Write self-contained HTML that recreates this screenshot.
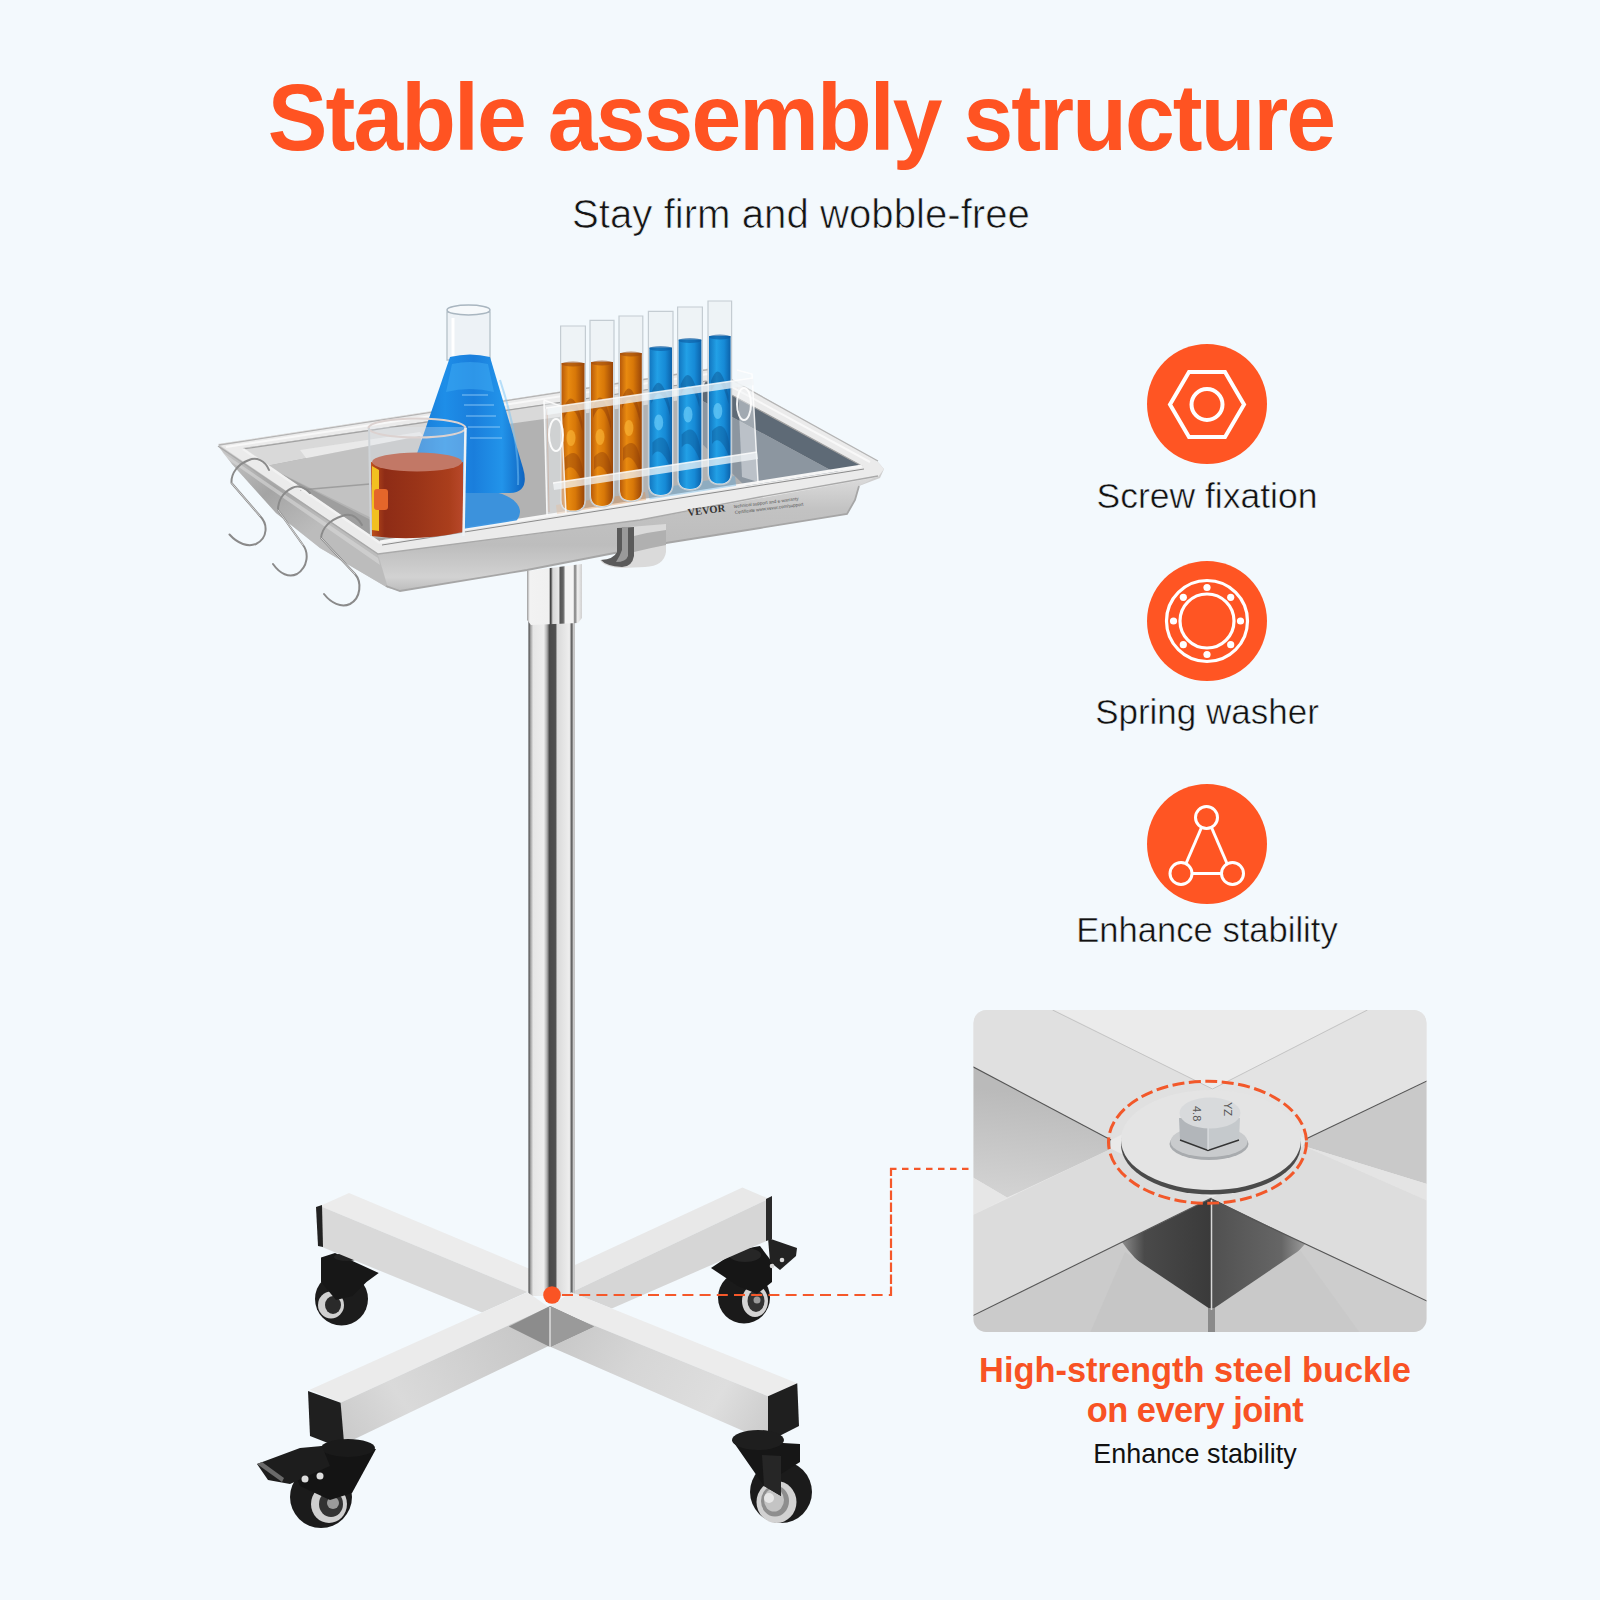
<!DOCTYPE html>
<html><head><meta charset="utf-8">
<style>
html,body{margin:0;padding:0;}
body{width:1600px;height:1600px;background:#f3f9fd;position:relative;overflow:hidden;font-family:"Liberation Sans",sans-serif;}
.t{position:absolute;white-space:nowrap;line-height:1;text-align:center;}
#art{position:absolute;left:0;top:0;}
#title{left:1px;width:1600px;top:70px;font-size:95px;font-weight:bold;color:#ff5322;letter-spacing:-2px;transform:scaleX(0.9415);}
#sub{left:501px;width:600px;top:195px;font-size:40.2px;color:#141414;-webkit-text-stroke:0.7px #f3f9fd;}
.lbl{left:1007px;width:400px;color:#111;-webkit-text-stroke:0.5px #f3f9fd;}
.pt{left:895px;width:600px;color:#f85224;font-weight:bold;font-size:34.4px;}
</style></head>
<body>
<svg id="art" width="1600" height="1600" viewBox="0 0 1600 1600">
<defs>
</defs>

<!-- ===== BASE ===== -->
<defs>
  <linearGradient id="gPole" x1="0" x2="1" y1="0" y2="0">
    <stop offset="0" stop-color="#3a3a3a"/>
    <stop offset="0.04" stop-color="#9a9a9a"/>
    <stop offset="0.1" stop-color="#e6e6e6"/>
    <stop offset="0.33" stop-color="#ededed"/>
    <stop offset="0.4" stop-color="#aaaaaa"/>
    <stop offset="0.45" stop-color="#4a4a4a"/>
    <stop offset="0.58" stop-color="#505050"/>
    <stop offset="0.62" stop-color="#dadada"/>
    <stop offset="0.88" stop-color="#eeeeee"/>
    <stop offset="0.93" stop-color="#555"/>
    <stop offset="0.97" stop-color="#cfcfcf"/>
    <stop offset="1" stop-color="#bdbdbd"/>
  </linearGradient>
  <linearGradient id="gFLAf" x1="342" y1="1445" x2="548" y2="1306" gradientUnits="userSpaceOnUse">
    <stop offset="0" stop-color="#c9c9c9"/>
    <stop offset="0.3" stop-color="#dadada"/>
    <stop offset="0.7" stop-color="#cdcdcd"/>
    <stop offset="1" stop-color="#c4c4c4"/>
  </linearGradient>
  <linearGradient id="gFRAf" x1="548" y1="1310" x2="768" y2="1440" gradientUnits="userSpaceOnUse">
    <stop offset="0" stop-color="#c4c4c4"/>
    <stop offset="0.4" stop-color="#d6d6d6"/>
    <stop offset="0.75" stop-color="#dedede"/>
    <stop offset="1" stop-color="#cacaca"/>
  </linearGradient>
  <linearGradient id="gTop" x1="0" y1="0" x2="1" y2="0">
    <stop offset="0" stop-color="#e9e9e9"/>
    <stop offset="1" stop-color="#f2f2f2"/>
  </linearGradient>
</defs>

<!-- back-right caster -->
<g>
  <circle cx="744" cy="1297.5" r="26" fill="#1a1a1a"/>
  <ellipse cx="755" cy="1301" rx="13" ry="16" fill="#d4d4d4"/>
  <ellipse cx="756" cy="1301" rx="8.5" ry="11" fill="#333"/>
  <circle cx="757" cy="1300" r="3.5" fill="#9a9a9a"/>
  <polygon points="711,1268 738,1250 760,1246 772,1262 772,1282 757,1294 738,1286" fill="#161616"/>
  <ellipse cx="745" cy="1255" rx="16" ry="7" fill="#262626"/>
  <polygon points="768,1238 797,1248 796,1256 780,1270 770,1262" fill="#222"/>
  <circle cx="772" cy="1266" r="2.3" fill="#d8d8d8"/>
  <circle cx="782" cy="1260" r="2.3" fill="#d8d8d8"/>
</g>
<!-- back-left caster -->
<g>
  <circle cx="341.5" cy="1299" r="26.5" fill="#1c1c1c"/>
  <ellipse cx="331" cy="1305" rx="13" ry="13.5" fill="#d0d0d0"/>
  <ellipse cx="333" cy="1305" rx="8" ry="9" fill="#2a2a2a"/>
  <polygon points="321,1257.5 335,1253 378.75,1273 366.5,1282 352.5,1296 336,1300 321,1282" fill="#171717"/>
  <ellipse cx="347" cy="1257" rx="13" ry="4" fill="#222"/>
</g>
<!-- back-left arm -->
<polygon points="320,1206 349,1193 549,1277 527.5,1292" fill="#ececec"/>
<polygon points="320,1206 527.5,1292 482,1312.6 322,1247" fill="#d9d9d9"/>
<polygon points="316,1207 322,1205 323,1247 318,1246" fill="#222"/>
<!-- back-right arm -->
<polygon points="549,1277 742.4,1187.5 768.7,1198.7 571.4,1292.25" fill="#e8e8e8"/>
<polygon points="571.4,1292.25 768.7,1198.7 768.7,1240 611.8,1308.5" fill="#d6d6d6"/>
<polygon points="766,1199 772,1196 772,1239 766,1241" fill="#2a2a2a"/>

<!-- pole -->
<rect x="528.5" y="620" width="46.5" height="676" fill="url(#gPole)"/>

<!-- front-left arm -->
<polygon points="309.75,1389.75 527.5,1292.25 548.6,1306.9 340.6,1402.75" fill="#ebebeb"/>
<polygon points="340.6,1402.75 548.6,1306.9 548.6,1345.9 342.25,1445" fill="url(#gFLAf)"/>
<polygon points="308,1391 340.6,1402.75 344.6,1449.5 310,1436" fill="#1f1f1f"/>
<!-- front-right arm -->
<polygon points="571.4,1292.25 797.25,1383.25 768,1396.25 548.6,1306.9" fill="#ececec"/>
<polygon points="548.6,1306.9 768,1396.25 768,1441.75 548.6,1345.9" fill="url(#gFRAf)"/>
<polygon points="768,1396.25 797.25,1383.25 799,1426 768,1441.75" fill="#1f1f1f"/>
<polygon points="550,1306 508.8,1326.4 550,1347 594,1326.4" fill="#8c8c8c"/>
<polygon points="550,1306 594,1326.4 550,1347" fill="#9a9a9a"/>
<line x1="550" y1="1307" x2="550" y2="1347" stroke="#dcdcdc" stroke-width="1.5"/>

<!-- front-left caster -->
<g>
  <circle cx="321" cy="1497" r="31" fill="#1b1b1b"/>
  <ellipse cx="329" cy="1504" rx="18" ry="19" fill="#cfcfcf"/>
  <ellipse cx="331" cy="1504" rx="12" ry="13" fill="#333"/>
  <circle cx="333" cy="1503" r="6" fill="#9a9a9a"/>
  <polygon points="288,1458 322,1446 376,1449 352,1493 330,1500 300,1486" fill="#141414"/>
  <ellipse cx="348" cy="1448" rx="27" ry="9" fill="#1a1a1a"/>
  <polygon points="257,1464 300,1448 322,1446 330,1466 290,1484 268,1480" fill="#1d1d1d"/>
  <polygon points="257,1464 262,1462 284,1478 282,1482" fill="#6a6a6a"/>
  <circle cx="305" cy="1479" r="3.5" fill="#ddd"/>
  <circle cx="320" cy="1476" r="3.5" fill="#ddd"/>
</g>
<!-- front-right caster -->
<g>
  <circle cx="781" cy="1492" r="31" fill="#1b1b1b"/>
  <ellipse cx="776.5" cy="1502" rx="20" ry="21" fill="#d2d2d2"/>
  <ellipse cx="775" cy="1501" rx="14" ry="15.5" fill="#8e8e8e"/>
  <ellipse cx="774" cy="1500" rx="10" ry="11.5" fill="#c4c4c4"/>
  <circle cx="769" cy="1498" r="5" fill="#e6e6e6"/>
  <polygon points="732,1440 800,1444 800,1462 781,1474 781,1496 764,1486" fill="#161616"/>
  <polygon points="762,1455 781,1456 781,1496 764,1486" fill="#262626"/>
  <ellipse cx="758" cy="1440" rx="26" ry="10" fill="#1e1e1e"/>
</g>

<!-- orange pointer -->
<line x1="562" y1="1295" x2="891" y2="1295" stroke="#f5582a" stroke-width="2.2" stroke-dasharray="11 6.2"/>
<circle cx="552" cy="1295" r="8.8" fill="#fa5424"/>
<line x1="891" y1="1296" x2="891" y2="1168" stroke="#f5582a" stroke-width="2.2" stroke-dasharray="9.5 2.5"/>
<line x1="890" y1="1168.8" x2="974" y2="1168.8" stroke="#f5582a" stroke-width="2.2" stroke-dasharray="6.5 5.5"/>

<!-- ===== TRAY ===== -->
<defs>
  <linearGradient id="gCollar" x1="0" x2="1" y1="0" y2="0">
    <stop offset="0" stop-color="#9a9a9a"/>
    <stop offset="0.05" stop-color="#f2f2f2"/>
    <stop offset="0.4" stop-color="#f0f0f0"/>
    <stop offset="0.43" stop-color="#333"/>
    <stop offset="0.47" stop-color="#d8d8d8"/>
    <stop offset="0.58" stop-color="#e8e8e8"/>
    <stop offset="0.6" stop-color="#555"/>
    <stop offset="0.66" stop-color="#666"/>
    <stop offset="0.7" stop-color="#f4f4f4"/>
    <stop offset="0.84" stop-color="#f4f4f4"/>
    <stop offset="0.87" stop-color="#777"/>
    <stop offset="0.92" stop-color="#f0f0f0"/>
    <stop offset="1" stop-color="#d0d0d0"/>
  </linearGradient>
  <linearGradient id="gBasin" x1="240" y1="440" x2="860" y2="470" gradientUnits="userSpaceOnUse">
    <stop offset="0" stop-color="#cfcfcf"/>
    <stop offset="0.2" stop-color="#e2e2e2"/>
    <stop offset="0.55" stop-color="#d8d8d8"/>
    <stop offset="0.8" stop-color="#c4c4c4"/>
    <stop offset="1" stop-color="#a9a9a9"/>
  </linearGradient>
  <linearGradient id="gLeft" x1="230" y1="450" x2="300" y2="540" gradientUnits="userSpaceOnUse">
    <stop offset="0" stop-color="#c4c4c4"/>
    <stop offset="0.5" stop-color="#a4a4a4"/>
    <stop offset="1" stop-color="#bcbcbc"/>
  </linearGradient>
  <linearGradient id="gFront" x1="0" y1="0" x2="0" y2="1">
    <stop offset="0" stop-color="#dcdcdc"/>
    <stop offset="0.3" stop-color="#c2c2c2"/>
    <stop offset="0.6" stop-color="#bdbdbd"/>
    <stop offset="0.88" stop-color="#d2d2d2"/>
    <stop offset="1" stop-color="#bcbcbc"/>
  </linearGradient>
</defs>

<!-- collar under tray -->
<polygon points="527,571 582,564 582,618 578,623 531,625 527,620" fill="url(#gCollar)"/>

<!-- tray outer silhouette (left face + front face) -->
<polygon points="218,444 712,368 877,461 884,469 880,478 859,486 855,500 847,514 760,528 666,543 527,570 400,591 388,588 320,548 276,513 232,464" fill="#cfcfcf"/>
<!-- front face -->
<polygon points="378,554 640,520 760,497 878,476 859,486 855,500 847,514 760,528 666,543 527,570 400,591 386,586" fill="url(#gFront)"/>
<!-- left face -->
<polygon points="218,446 378,554 388,588 320,548 276,513 232,464" fill="url(#gLeft)"/>
<polygon points="222,452 378,558 380,565 230,461" fill="#d8d8d8" opacity="0.6"/>
<!-- rim top surface -->
<polygon points="218,444 712,368 877,461 884,469 878,477 640,520 378,554" fill="#ebebeb"/>
<!-- basin -->
<polygon points="243,448 706,381 862,466 380,542" fill="#b2b2b2"/>
<polygon points="243,448 706,381 696,398 420,436 266,466" fill="#d9d9d9"/>
<polygon points="300,450 420,432 450,470 330,490" fill="#ececec" opacity="0.8"/>
<polygon points="243,448 266,466 394,532 380,542" fill="#9e9e9e"/>
<polygon points="266,466 420,436 440,488 392,528" fill="#c2c2c2"/>
<polyline points="300,490 440,478" fill="none" stroke="#8e8e8e" stroke-width="1.5" opacity="0.7"/>
<polygon points="706,381 862,466 834,472 697,398" fill="#5e6a76"/>
<polygon points="697,398 834,472 745,486 688,430" fill="#8c96a0"/>
<!-- rim lines -->
<polyline points="219,445 712,369 878,461" fill="none" stroke="#b4b4b4" stroke-width="1.3"/>
<polyline points="226,447 708,374 870,462" fill="none" stroke="#f8f8f8" stroke-width="2"/>
<polyline points="243,449 706,381 862,466" fill="none" stroke="#a2a2a2" stroke-width="1.2"/>
<polyline points="218,446 378,554 640,520 760,497 878,476" fill="none" stroke="#a9a9a9" stroke-width="1.4"/>
<polyline points="380,542 862,466" fill="none" stroke="#f6f6f6" stroke-width="3"/>
<polyline points="382,545 864,469" fill="none" stroke="#8a8a8a" stroke-width="1"/>
<polyline points="243,449 380,543" fill="none" stroke="#f2f2f2" stroke-width="2.5"/>
<polyline points="386,586 400,591 527,570 666,543 760,528 847,514 855,500 859,486" fill="none" stroke="#a6a6a6" stroke-width="1.8"/>
<!-- clamp at right under tray -->
<path d="M617,528 L666,524 L666,552 Q664,566 645,567 L622,568 Q604,567 600,560 Q614,560 617,552 Z" fill="#dadada"/>
<path d="M634,536 Q650,532 666,530 L666,545 Q650,548 634,552 Z" fill="#b0b0b0"/>
<path d="M617,528 L634,527 L634,556 Q632,567 622,567 Q606,566 601,560 Q614,559 617,552 Z" fill="#5a5a5a"/>
<path d="M622,527 L628,527 L628,556 Q626,562 616,562 Q620,556 622,550 Z" fill="#9a9a9a"/>
<!-- VEVOR label -->
<text x="688" y="516" font-family="Liberation Serif" font-weight="bold" font-size="10.5" fill="#333" transform="rotate(-7 688 516)">VEVOR</text>
<text x="734" y="508" font-family="Liberation Sans" font-size="4.5" fill="#555" transform="rotate(-7 734 508)">technical support and e-warranty</text>
<text x="735" y="514" font-family="Liberation Sans" font-size="4.5" fill="#555" transform="rotate(-7 735 514)">Certificate www.vevor.com/support</text>

<!-- ===== OBJECTS ===== -->
<defs>
  <linearGradient id="gBlue" x1="0" x2="1" y1="0" y2="0">
    <stop offset="0" stop-color="#1676d2"/>
    <stop offset="0.3" stop-color="#1e8ee8"/>
    <stop offset="0.55" stop-color="#1a7edc"/>
    <stop offset="0.8" stop-color="#2294ea"/>
    <stop offset="1" stop-color="#0f64c0"/>
  </linearGradient>
  <linearGradient id="gTubeO" x1="0" x2="1" y1="0" y2="0">
    <stop offset="0" stop-color="#b85a0a"/>
    <stop offset="0.3" stop-color="#e88a10"/>
    <stop offset="0.6" stop-color="#d87808"/>
    <stop offset="1" stop-color="#9a4608"/>
  </linearGradient>
  <linearGradient id="gTubeB" x1="0" x2="1" y1="0" y2="0">
    <stop offset="0" stop-color="#1276c0"/>
    <stop offset="0.35" stop-color="#22a0e6"/>
    <stop offset="0.7" stop-color="#168ad6"/>
    <stop offset="1" stop-color="#0c62aa"/>
  </linearGradient>
  <linearGradient id="gRed" x1="0" x2="1" y1="0" y2="0">
    <stop offset="0" stop-color="#c0501c"/>
    <stop offset="0.15" stop-color="#8e2c16"/>
    <stop offset="0.5" stop-color="#9a3418"/>
    <stop offset="0.85" stop-color="#aa3e1c"/>
    <stop offset="1" stop-color="#b8482a"/>
  </linearGradient>
</defs>

<!-- reflections in tray -->
<clipPath id="cBasin"><polygon points="243,448 706,381 862,466 380,542"/></clipPath>
<g clip-path="url(#cBasin)">
<ellipse cx="478" cy="512" rx="42" ry="22" fill="#2f8ee0" opacity="0.9"/>
<polygon points="556,505 645,492 650,530 560,540" fill="#e08a40" opacity="0.35"/>
<polygon points="648,490 735,476 740,520 655,530" fill="#3aa0e0" opacity="0.3"/>
</g>

<!-- flask -->
<g>
  <path d="M447,312 L447,360 L490,360 L490,312 Z" fill="#edf2f6" stroke="#b4c0c8" stroke-width="1.3"/>
  <line x1="453" y1="318" x2="453" y2="356" stroke="#ffffff" stroke-width="3"/>
  <ellipse cx="468.5" cy="310" rx="21.5" ry="5" fill="#f6f9fb" stroke="#a9b6c0" stroke-width="1.5"/>
  <path d="M450,357 Q470,352 490,357 L523,468 Q530,492 510,493 L428,493 Q406,492 412,468 Z" fill="url(#gBlue)"/>
  <path d="M452,364 Q470,360 488,364 L494,392 Q470,386 446,392 Z" fill="#3eaaf2" opacity="0.55"/>
  <g stroke="#9fd4fa" stroke-width="1" opacity="0.8">
    <line x1="462" y1="395" x2="488" y2="395"/>
    <line x1="464" y1="405" x2="494" y2="405"/>
    <line x1="466" y1="416" x2="496" y2="416"/>
    <line x1="468" y1="427" x2="500" y2="427"/>
    <line x1="470" y1="438" x2="502" y2="438"/>
  </g>
  <path d="M500,380 Q520,440 518,485" fill="none" stroke="#78c4f6" stroke-width="2" opacity="0.5"/>
</g>
<!-- beaker -->
<g>
  <rect x="370" y="427" width="95" height="111" fill="#e6ecf2" opacity="0.3"/>
  <path d="M371,462 Q417,476 463,462 L463,532 Q417,542 372,536 Z" fill="url(#gRed)"/>
  <ellipse cx="417" cy="462" rx="45" ry="9.5" fill="#c27866"/>
  <path d="M372,466 L379,470 L379,531 L372,530 Z" fill="#f2c020"/>
  <rect x="374" y="489" width="14" height="21" rx="3" fill="#e4662a"/>
  <ellipse cx="417" cy="428" rx="48.5" ry="9.5" fill="none" stroke="#dcd2d0" stroke-width="2"/>
  <path d="M369,428 L371,536" stroke="#cfd4d8" stroke-width="2"/>
  <path d="M465.5,428 L463.5,536" stroke="#eef2f5" stroke-width="2.5"/>
</g>
<!-- test tube rack back bars -->
<g fill="#eef2f5" opacity="0.55">
  <polygon points="545,409 753,378 753,384 545,415"/>
</g>

<!-- tubes -->
<g stroke="#c4ccd2" stroke-width="1.2">
  <path d="M560.6,326 L585.4,326 L585.4,500 Q585.4,511.6 573,511.6 Q560.6,511.6 560.6,500 Z" fill="#eef3f6"/>
  <path d="M590,320.4 L614,320.4 L614,495 Q614,507 602,507 Q590,507 590,495 Z" fill="#eef3f6"/>
  <path d="M619,316 L642.8,316 L642.8,490 Q642.8,501.5 631,501.5 Q619,501.5 619,490 Z" fill="#eef3f6"/>
  <path d="M648.4,311.4 L673,311.4 L673,484 Q673,496 660.7,496 Q648.4,496 648.4,484 Z" fill="#eef3f6"/>
  <path d="M677.6,307 L702.4,307 L702.4,478 Q702.4,490 690,490 Q677.6,490 677.6,478 Z" fill="#eef3f6"/>
  <path d="M708,301 L731.6,301 L731.6,473 Q731.6,484.6 719.8,484.6 Q708,484.6 708,473 Z" fill="#eef3f6"/>
</g>
<g>
  <path d="M561.5,363 L584.5,363 L584.5,500 Q584.5,510.6 573,510.6 Q561.5,510.6 561.5,500 Z" fill="url(#gTubeO)"/>
  <path d="M591,362 L613,362 L613,495 Q613,506 602,506 Q591,506 591,495 Z" fill="url(#gTubeO)"/>
  <path d="M620,353 L641.8,353 L641.8,490 Q641.8,500.5 631,500.5 Q620,500.5 620,490 Z" fill="url(#gTubeO)"/>
  <path d="M649.4,347.4 L672,347.4 L672,484 Q672,495 660.7,495 Q649.4,495 649.4,484 Z" fill="url(#gTubeB)"/>
  <path d="M678.6,339.5 L701.4,339.5 L701.4,478 Q701.4,489 690,489 Q678.6,489 678.6,478 Z" fill="url(#gTubeB)"/>
  <path d="M709,336 L730.6,336 L730.6,473 Q730.6,483.6 719.8,483.6 Q709,483.6 709,473 Z" fill="url(#gTubeB)"/>
</g>
<!-- liquid meniscus -->
<g fill="#9c4a10" opacity="0.6">
  <ellipse cx="573" cy="364" rx="11.5" ry="2.5"/>
  <ellipse cx="602" cy="363" rx="11" ry="2.5"/>
  <ellipse cx="631" cy="354" rx="11" ry="2.5"/>
</g>
<g fill="#0e5aa0" opacity="0.6">
  <ellipse cx="660.7" cy="348.4" rx="11.3" ry="2.5"/>
  <ellipse cx="690" cy="340.5" rx="11.4" ry="2.5"/>
  <ellipse cx="719.8" cy="337" rx="10.8" ry="2.5"/>
</g>
<!-- tube streaks -->
<path d="M563.6,408.0 Q573.0,383.0 582.4,423.0 L582.4,431.0 Q573.0,395.0 563.6,419.0 Z" fill="#8a3a08" opacity="0.45"/>
<path d="M564.6,458.0 Q579.0,443.0 583.4,473.0 L583.4,485.0 Q573.0,459.0 564.6,471.0 Z" fill="#8a3a08" opacity="0.4"/>
<ellipse cx="571.0" cy="438.0" rx="4.5" ry="8" fill="#ffc040" opacity="0.55"/>
<path d="M593.0,407.0 Q602.0,382.0 611.0,422.0 L611.0,430.0 Q602.0,394.0 593.0,418.0 Z" fill="#8a3a08" opacity="0.45"/>
<path d="M594.0,457.0 Q608.0,442.0 612.0,472.0 L612.0,484.0 Q602.0,458.0 594.0,470.0 Z" fill="#8a3a08" opacity="0.4"/>
<ellipse cx="600.0" cy="437.0" rx="4.5" ry="8" fill="#ffc040" opacity="0.55"/>
<path d="M622.0,398.0 Q630.9,373.0 639.8,413.0 L639.8,421.0 Q630.9,385.0 622.0,409.0 Z" fill="#8a3a08" opacity="0.45"/>
<path d="M623.0,448.0 Q636.9,433.0 640.8,463.0 L640.8,475.0 Q630.9,449.0 623.0,461.0 Z" fill="#8a3a08" opacity="0.4"/>
<ellipse cx="628.9" cy="428.0" rx="4.5" ry="8" fill="#ffc040" opacity="0.55"/>
<path d="M651.4,392.4 Q660.7,367.4 670.0,407.4 L670.0,415.4 Q660.7,379.4 651.4,403.4 Z" fill="#0a4f8c" opacity="0.45"/>
<path d="M652.4,442.4 Q666.7,427.4 671.0,457.4 L671.0,469.4 Q660.7,443.4 652.4,455.4 Z" fill="#0a4f8c" opacity="0.4"/>
<ellipse cx="658.7" cy="422.4" rx="4.5" ry="8" fill="#7fd8ff" opacity="0.55"/>
<path d="M680.6,384.5 Q690.0,359.5 699.4,399.5 L699.4,407.5 Q690.0,371.5 680.6,395.5 Z" fill="#0a4f8c" opacity="0.45"/>
<path d="M681.6,434.5 Q696.0,419.5 700.4,449.5 L700.4,461.5 Q690.0,435.5 681.6,447.5 Z" fill="#0a4f8c" opacity="0.4"/>
<ellipse cx="688.0" cy="414.5" rx="4.5" ry="8" fill="#7fd8ff" opacity="0.55"/>
<path d="M711.0,381.0 Q719.8,356.0 728.6,396.0 L728.6,404.0 Q719.8,368.0 711.0,392.0 Z" fill="#0a4f8c" opacity="0.45"/>
<path d="M712.0,431.0 Q725.8,416.0 729.6,446.0 L729.6,458.0 Q719.8,432.0 712.0,444.0 Z" fill="#0a4f8c" opacity="0.4"/>
<ellipse cx="717.8" cy="411.0" rx="4.5" ry="8" fill="#7fd8ff" opacity="0.55"/>
<!-- rack front -->
<g fill="#f4f7f9" opacity="0.45">
  <polygon points="543.5,400 561,406 566,513 547,516"/>
  <polygon points="737,370 752,374 758,482 742,477"/>
</g>
<g fill="none" stroke="#ffffff" stroke-width="1.5" opacity="0.85">
  <polyline points="543.5,400 561,406 566,513"/>
  <polyline points="737,370 752,374 758,482"/>
  <line x1="544" y1="401" x2="547" y2="515"/>
</g>
<g fill="none" stroke="#c9a08a" stroke-width="1" opacity="0.5">
  <line x1="547" y1="408" x2="549" y2="512"/>
</g>
<g fill="none" stroke="#ffffff" stroke-width="2" opacity="0.9">
  <ellipse cx="556" cy="435" rx="7" ry="16"/>
  <ellipse cx="744" cy="404" rx="7" ry="16"/>
</g>
<g fill="#f2f6f8" opacity="0.75">
  <polygon points="546,408 753,378 754,385 547,415"/>
  <polygon points="553,483 757,452 758,459 554,490"/>
</g>
<g stroke="#ffffff" stroke-width="1.6" opacity="0.8">
  <line x1="546" y1="408" x2="753" y2="378"/>
  <line x1="553" y1="483" x2="757" y2="452"/>
</g>

<!-- ===== HOOKS ===== -->
<g fill="none" stroke="#8a8a8a" stroke-width="2" stroke-linecap="round" stroke-linejoin="round">
  <path d="M269,470 C265,460 256,457 249,460 C238,464 231,473 231.5,483 L260,516 C268,524 268,538 256,544 C248,547 238,544 229.5,534.5"/>
  <path d="M310,493 C305,487 298,485 292,488 C282,493 278,502 278,510 L303,545 C309,553 308,567 297,574 C289,578 280,574 273,564"/>
  <path d="M362,525 C357,516 350,513 342,516 C330,520 322,528 321,538 L355,574 C362,582 361,598 350,604 C341,608 331,603 324,594"/>
</g>
<g fill="none" stroke="#d9d9d9" stroke-width="0.9" stroke-linecap="round">
  <path d="M231.5,483 L260,516"/>
  <path d="M278,510 L303,545"/>
  <path d="M321,538 L355,574"/>
</g>

<!-- ===== DETAIL PANEL ===== -->
<defs>
  <clipPath id="cPanel"><rect x="973.5" y="1010" width="453" height="322" rx="13" ry="13"/></clipPath>
  <linearGradient id="gBLside" x1="1000" y1="1090" x2="990" y2="1190" gradientUnits="userSpaceOnUse">
    <stop offset="0" stop-color="#bababa"/>
    <stop offset="1" stop-color="#d2d2d2"/>
  </linearGradient>
  <linearGradient id="gFLAside" x1="973" y1="1320" x2="1211" y2="1220" gradientUnits="userSpaceOnUse">
    <stop offset="0" stop-color="#d4d4d4"/>
    <stop offset="0.55" stop-color="#c9c9c9"/>
    <stop offset="0.75" stop-color="#6a6a6a"/>
    <stop offset="1" stop-color="#3a3a3a"/>
  </linearGradient>
  <linearGradient id="gCrevL" x1="1122" y1="1250" x2="1211" y2="1250" gradientUnits="userSpaceOnUse">
    <stop offset="0" stop-color="#8a8a8a"/>
    <stop offset="0.25" stop-color="#4a4a4a"/>
    <stop offset="1" stop-color="#3a3a3a"/>
  </linearGradient>
  <linearGradient id="gCrevR" x1="1211" y1="1250" x2="1305" y2="1250" gradientUnits="userSpaceOnUse">
    <stop offset="0" stop-color="#505050"/>
    <stop offset="0.75" stop-color="#666"/>
    <stop offset="1" stop-color="#9a9a9a"/>
  </linearGradient>
  <linearGradient id="gFRAside" x1="1211" y1="1220" x2="1426" y2="1320" gradientUnits="userSpaceOnUse">
    <stop offset="0" stop-color="#4a4a4a"/>
    <stop offset="0.3" stop-color="#707070"/>
    <stop offset="0.45" stop-color="#c4c4c4"/>
    <stop offset="1" stop-color="#d2d2d2"/>
  </linearGradient>
</defs>
<g clip-path="url(#cPanel)">
  <rect x="973" y="1009" width="454" height="324" fill="#e9e9e9"/>
  <!-- top center background triangle -->
  <polygon points="1052.5,1010 1367.5,1010 1212.5,1089" fill="#ebebeb"/>
  <!-- back-left arm top face -->
  <polygon points="973,1009 1052.5,1009 1212.5,1089 1111,1140 973,1066.8" fill="#e0e0e0"/>
  <!-- back-right arm top face -->
  <polygon points="1367.5,1009 1427,1009 1427,1081 1305.8,1139 1212.5,1089" fill="#e3e3e3"/>
  <!-- back-left side face -->
  <polygon points="973,1066.8 1111,1140 1111,1149 1007,1197.6 973,1177.5" fill="url(#gBLside)"/>
  <!-- floor strip left -->
  <polygon points="973,1177.5 1007,1197.6 973,1215" fill="#e6e6e6"/>
  <!-- back-right side face -->
  <polygon points="1305.8,1139 1427,1081 1427,1184 1303.5,1146" fill="#c9c9c9"/>
  <polygon points="1303.5,1146 1427,1184 1427,1200.5" fill="#e4e4e4"/>
  <!-- front-left arm side face (below) -->
  <polygon points="973,1315.5 1211.5,1198 1211.5,1333 973,1333" fill="#cbcbcb"/>
  <!-- front-right arm side face -->
  <polygon points="1211.5,1198 1427,1301 1427,1333 1211.5,1333" fill="#cdcdcd"/>
  <!-- crevice dark reflections -->
  <path d="M1211.5,1198 L1122,1242 Q1150,1282 1211.5,1310 Z" fill="url(#gCrevL)"/>
  <path d="M1211.5,1198 L1305,1244 Q1270,1284 1211.5,1310 Z" fill="url(#gCrevR)"/>
  <polygon points="1090,1333 1125,1252 1211.5,1310 1211.5,1333" fill="#c6c6c6"/>
  <polygon points="1211.5,1310 1300,1250 1360,1333 1211.5,1333" fill="#c9c9c9"/>
  <polygon points="1208,1308 1215,1308 1215,1333 1208,1333" fill="#8a8a8a"/>
  <!-- front-left arm top face -->
  <polygon points="973,1215 1111,1148.8 1211.5,1198 973,1315.5" fill="#dcdcdc"/>
  <!-- front-right arm top face -->
  <polygon points="1211.5,1198 1303.5,1146 1427,1200.5 1427,1301" fill="#dddddd"/>
  <!-- edge lines -->
  <g stroke="#555" stroke-width="1.1" fill="none">
    <line x1="973" y1="1066.8" x2="1111" y2="1140"/>
    <line x1="1427" y1="1081" x2="1305.8" y2="1139"/>
    <line x1="973" y1="1315.5" x2="1211.5" y2="1198"/>
    <line x1="1211.5" y1="1200" x2="1427" y2="1301"/>
  </g>
  <g stroke="#c4c4c4" stroke-width="1" fill="none">
    <line x1="1052.5" y1="1010" x2="1212.5" y2="1089"/>
    <line x1="1367.5" y1="1010" x2="1212.5" y2="1089"/>
  </g>
  <line x1="1211.5" y1="1200" x2="1211.5" y2="1310" stroke="#d8d8d8" stroke-width="1.5"/>
  <!-- washer -->
  <ellipse cx="1211" cy="1144.5" rx="90" ry="50" fill="#4a4a4a"/>
  <ellipse cx="1211" cy="1140" rx="90" ry="50" fill="#e4e4e4"/>
  <!-- bolt ring washer -->
  <ellipse cx="1209" cy="1144" rx="39.5" ry="16" fill="#a8abae"/>
  <ellipse cx="1209" cy="1141.5" rx="38.5" ry="15.5" fill="#c9cbcd"/>
  <!-- bolt hex -->
  <polygon points="1179,1118 1208,1118 1208,1150.5 1180,1140" fill="#b2b6ba"/>
  <polygon points="1208,1118 1240,1118 1239,1140 1208,1150.5" fill="#c5c9cc"/>
  <polyline points="1180,1140 1208,1150.5 1239,1140" fill="none" stroke="#333" stroke-width="1.4"/>
  <line x1="1208" y1="1124" x2="1208" y2="1150" stroke="#e6e8ea" stroke-width="1"/>
  <ellipse cx="1210" cy="1113" rx="30.5" ry="15.5" fill="#d8dadc"/>
  <text x="1193" y="1106" font-family="Liberation Sans" font-size="11" fill="#555" transform="rotate(90 1193 1106)">4.8</text>
  <text x="1224" y="1102" font-family="Liberation Sans" font-size="11" fill="#555" transform="rotate(90 1224 1102)">YZ</text>
</g>
<!-- dashed orange ellipse -->
<ellipse cx="1207.5" cy="1142.3" rx="99" ry="61" fill="none" stroke="#f2582a" stroke-width="3" stroke-dasharray="12 4.5"/>

  <!-- icons -->
  <g fill="#ff5523">
    <circle cx="1207" cy="404" r="60"/>
    <circle cx="1207" cy="621" r="60"/>
    <circle cx="1207" cy="844" r="60"/>
  </g>
  <g fill="none" stroke="#fff" stroke-width="4">
    <polygon points="1170,404.5 1189,372 1225,372 1244,404.5 1225,437 1189,437"/>
    <circle cx="1207" cy="404.5" r="15.5"/>
  </g>
  <g fill="none" stroke="#fff" stroke-width="3.2">
    <circle cx="1207" cy="621" r="40.5"/>
    <circle cx="1207" cy="621" r="27"/>
  </g>
  <g fill="#fff">
    <circle cx="1207" cy="587.5" r="3.6"/>
    <circle cx="1230.7" cy="597.3" r="3.6"/>
    <circle cx="1240.5" cy="621" r="3.6"/>
    <circle cx="1230.7" cy="644.7" r="3.6"/>
    <circle cx="1207" cy="654.5" r="3.6"/>
    <circle cx="1183.3" cy="644.7" r="3.6"/>
    <circle cx="1173.5" cy="621" r="3.6"/>
    <circle cx="1183.3" cy="597.3" r="3.6"/>
  </g>
  <g fill="none" stroke="#fff" stroke-width="3">
    <circle cx="1206.5" cy="817.5" r="11"/>
    <circle cx="1181" cy="873.5" r="11"/>
    <circle cx="1232.5" cy="873.5" r="11"/>
    <line x1="1201.5" y1="827.5" x2="1186" y2="863.5"/>
    <line x1="1211.5" y1="827.5" x2="1227" y2="863.5"/>
    <line x1="1192" y1="873.5" x2="1221.5" y2="873.5"/>
  </g>
</svg>
<div id="title" class="t">Stable assembly structure</div>
<div id="sub" class="t">Stay firm and wobble-free</div>
<div class="t lbl" style="top:479.3px;font-size:35.5px">Screw fixation</div>
<div class="t lbl" style="top:693.7px;font-size:35px">Spring washer</div>
<div class="t lbl" style="top:913px;font-size:34.6px">Enhance stability</div>
<div class="t pt" style="top:1352.5px">High-strength steel buckle</div>
<div class="t pt" style="top:1392.9px;letter-spacing:-0.5px">on every joint</div>
<div class="t" style="left:995px;width:400px;color:#111;top:1441.3px;font-size:26.9px">Enhance stability</div>
</body></html>
